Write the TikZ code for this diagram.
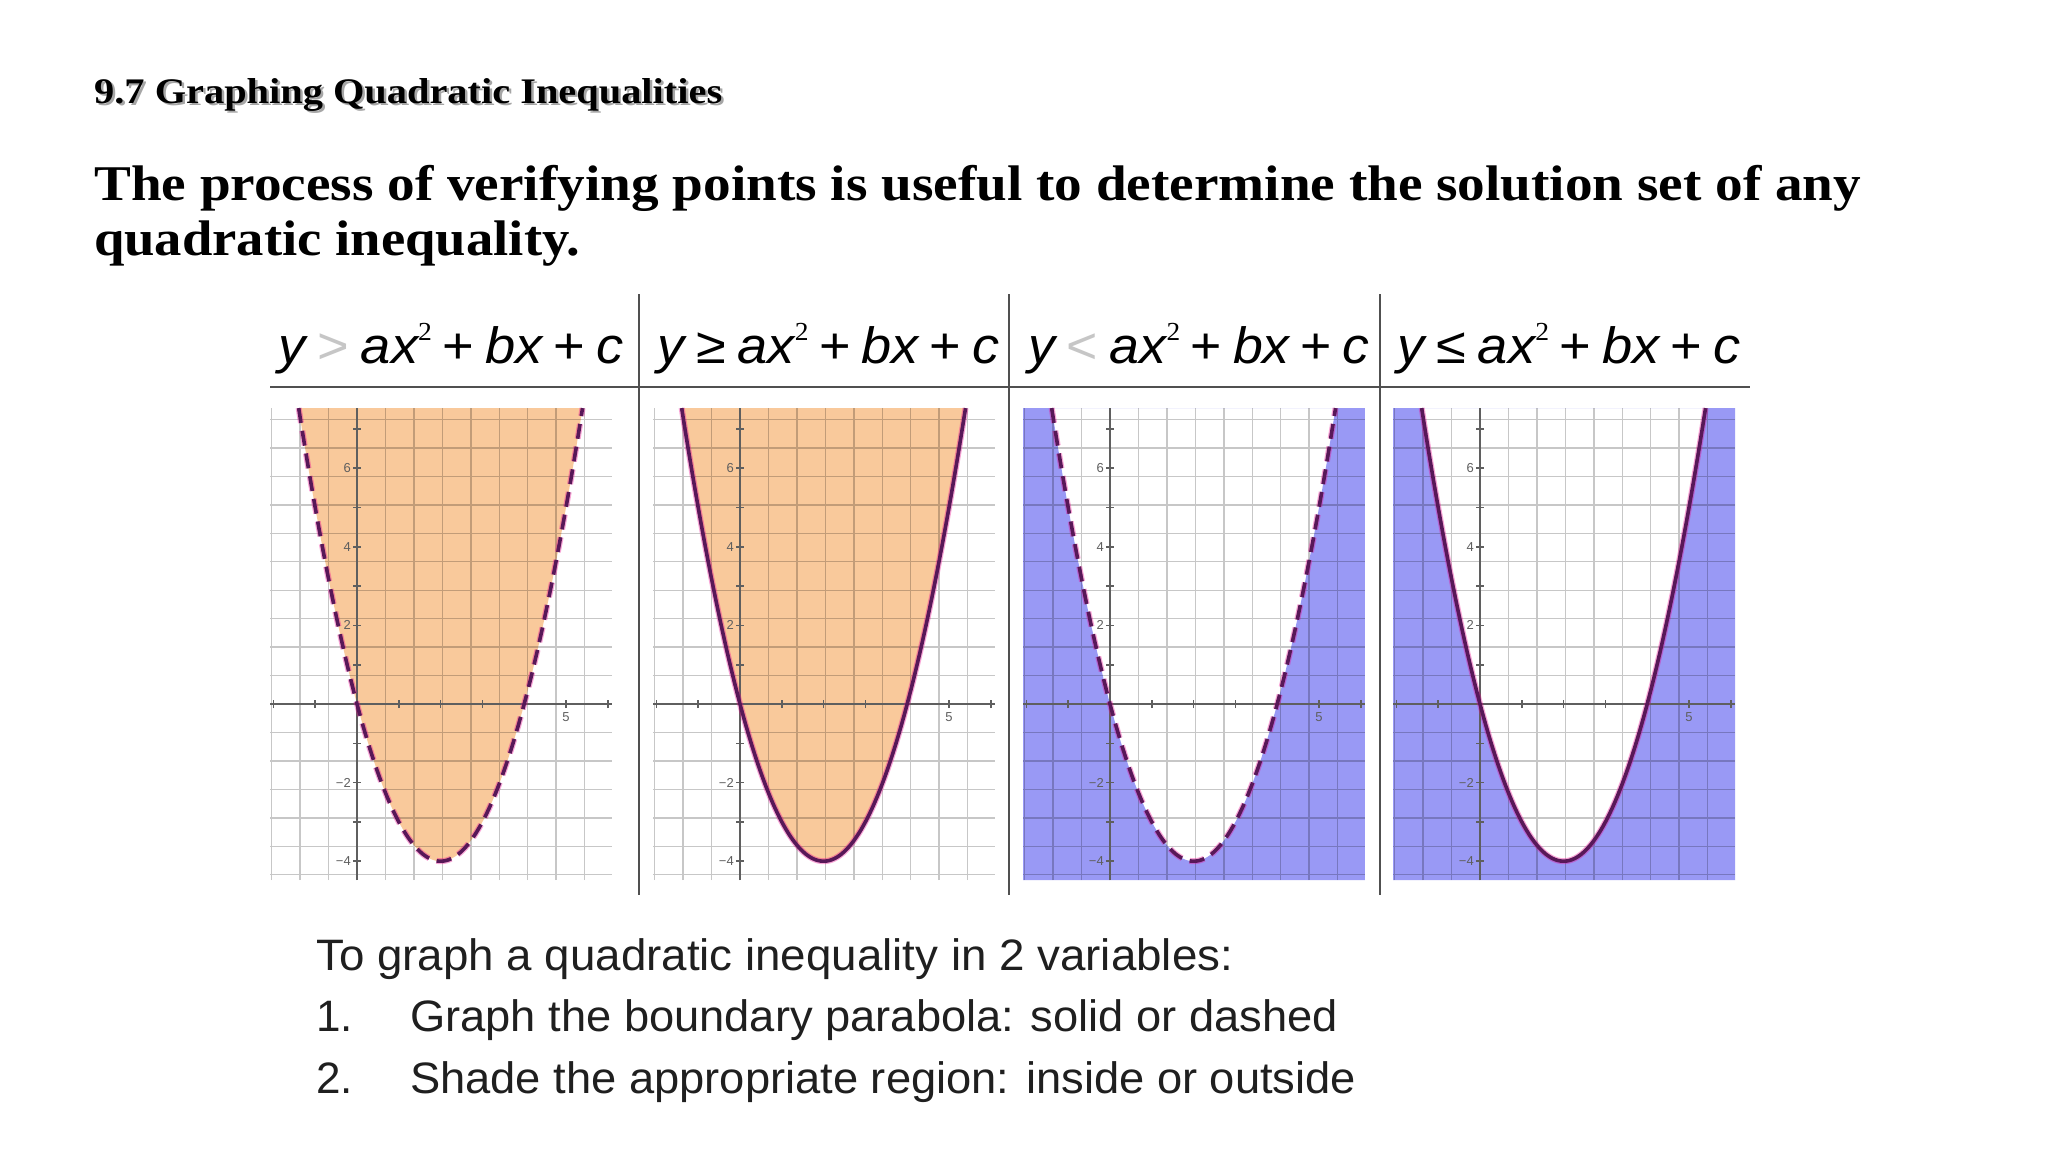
\documentclass[tikz,border=0pt]{standalone}
\usepackage{fontspec}
\usepackage{graphicx}
\setmainfont{Liberation Serif}
\newfontfamily\sansf{Liberation Sans}
\newfontfamily\serifb{Liberation Serif}
\definecolor{orangefill}{RGB}{249,201,155}
\definecolor{bluefill}{RGB}{153,153,245}
\definecolor{curvecol}{RGB}{88,24,88}
\definecolor{axiscol}{RGB}{95,95,95}
\definecolor{tabcol}{RGB}{80,80,80}
\newcommand\hdr[2]{{\sansf\fontsize{51}{51}\selectfont\itshape y\hspace{0.22em}{\upshape\color{#2}#1}\hspace{0.22em}ax\raisebox{0.45em}{\serifb\upshape\fontsize{26}{26}\selectfont 2}\hspace{0.2em}{\upshape +}\hspace{0.2em}bx\hspace{0.2em}{\upshape +}\hspace{0.2em}c}}
\newcommand\parab{plot[domain=-1.3956:5.3956,samples=120] (\x,{\x*\x-4*\x})}
\tikzset{
  gridline/.style={draw=black, opacity=0.22, line width=1.4pt},
  axisline/.style={draw=axiscol, line width=1.6pt},
  ticklab/.style={font=\sansf\fontsize{13}{13}\selectfont, text=axiscol, inner sep=0},
  curveline/.style={draw=curvecol, line width=3.6pt},
  glowline/.style={draw=magenta, opacity=0.35, line width=6pt},
  dashcurve/.style={dash pattern=on 15pt off 8pt},
  tabline/.style={draw=tabcol, line width=2pt},
  txt/.style={anchor=base west, inner sep=0},
}
\newcommand\panelaxes[1]{%
  \draw[gridline] (-2.08,-4.48) grid (6.1,7.53);
  \draw[axisline] (-2.08,0) -- (6.1,0);
  \draw[axisline] (0,-4.48) -- (0,7.53);
  \foreach \i in {-2,...,6}{\draw[axisline] ([yshift=-4pt]\i,0) -- ([yshift=4pt]\i,0);}
  \foreach \j in {-4,...,7}{\draw[axisline] ([xshift=-4pt]0,\j) -- ([xshift=4pt]0,\j);}
  \node[ticklab, anchor=east] (#1y6) at ([xshift=-6pt]0,6) {6};
  \node[ticklab, anchor=east] (#1y4) at ([xshift=-6pt]0,4) {4};
  \node[ticklab, anchor=east] (#1y2) at ([xshift=-6pt]0,2) {2};
  \node[ticklab, anchor=east] (#1ym2) at ([xshift=-6pt]0,-2) {−2};
  \node[ticklab, anchor=east] (#1ym4) at ([xshift=-6pt]0,-4) {−4};
  \node[ticklab, anchor=north] (#1x5) at ([yshift=-8pt]5,0) {5};
}
\begin{document}
\begin{tikzpicture}[x=1pt,y=-1pt]
\useasboundingbox (0,0) rectangle (2048,1152);
\fill[white] (0,0) rectangle (2048,1152);

% title with shadow
\node[txt, text=black!35] (titleshadow) at (96.5,105.5) {\resizebox{628pt}{\height}{\fontsize{36}{36}\selectfont\bfseries 9.7 Graphing Quadratic Inequalities}};
\node[txt] (title) at (94,103) {\resizebox{628pt}{\height}{\fontsize{36}{36}\selectfont\bfseries 9.7 Graphing Quadratic Inequalities}};

\node[txt] (line1) at (94,200) {\resizebox{1767pt}{\height}{\fontsize{50}{50}\selectfont\bfseries The process of verifying points is useful to determine the solution set of any}};
\node[txt] (line2) at (94,255) {\resizebox{486pt}{\height}{\fontsize{50}{50}\selectfont\bfseries quadratic inequality.}};

% headers
\node[txt] (h1) at (278,363) {\resizebox{345pt}{\height}{\hdr{>}{gray!45}}};
\node[txt] (h2) at (657,363) {\resizebox{342pt}{\height}{\hdr{≥}{black}}};
\node[txt] (h3) at (1028,363) {\resizebox{341pt}{\height}{\hdr{<}{gray!45}}};
\node[txt] (h4) at (1397,363) {\resizebox{343pt}{\height}{\hdr{≤}{black}}};

% panel 1
\begin{scope}[xshift=357pt, yshift=-704pt, x=41.8pt, y=39.3pt]
  \fill[orangefill] \parab -- cycle;
  \panelaxes{pa}
  \draw[glowline, dashcurve] \parab;
  \draw[curveline, dashcurve] \parab;
\end{scope}
% panel 2
\begin{scope}[xshift=740pt, yshift=-704pt, x=41.8pt, y=39.3pt]
  \fill[orangefill] \parab -- cycle;
  \panelaxes{pb}
  \draw[glowline] \parab;
  \draw[curveline] \parab;
\end{scope}
% panel 3
\begin{scope}[xshift=1110pt, yshift=-704pt, x=41.8pt, y=39.3pt]
  \fill[bluefill, even odd rule] (-2.08,-4.48) rectangle (6.1,7.53) \parab -- cycle;
  \panelaxes{pc}
  \draw[glowline, dashcurve] \parab;
  \draw[curveline, dashcurve] \parab;
\end{scope}
% panel 4
\begin{scope}[xshift=1480pt, yshift=-704pt, x=41.8pt, y=39.3pt]
  \fill[bluefill, even odd rule] (-2.08,-4.48) rectangle (6.1,7.53) \parab -- cycle;
  \panelaxes{pd}
  \draw[glowline] \parab;
  \draw[curveline] \parab;
\end{scope}

% table lines
\draw[tabline] (270,387) -- (1750,387);
\draw[tabline] (639,294) -- (639,895);
\draw[tabline] (1009,294) -- (1009,895);
\draw[tabline] (1380,294) -- (1380,895);

% bottom text
\node[txt, text=black!88] (b1) at (316,970) {\resizebox{917pt}{\height}{\sansf\fontsize{44}{44}\selectfont To graph a quadratic inequality in 2 variables:}};
\node[txt, text=black!88] (n1) at (316,1031) {\sansf\fontsize{44}{44}\selectfont 1.};
\node[txt, text=black!88] (b2) at (410,1031) {\resizebox{928pt}{\height}{\sansf\fontsize{44}{44}\selectfont Graph the boundary parabola: solid or dashed}};
\node[txt, text=black!88] (n2) at (316,1093) {\sansf\fontsize{44}{44}\selectfont 2.};
\node[txt, text=black!88] (b3) at (410,1093) {\resizebox{946pt}{\height}{\sansf\fontsize{44}{44}\selectfont Shade the appropriate region: inside or outside}};
\end{tikzpicture}
\end{document}
